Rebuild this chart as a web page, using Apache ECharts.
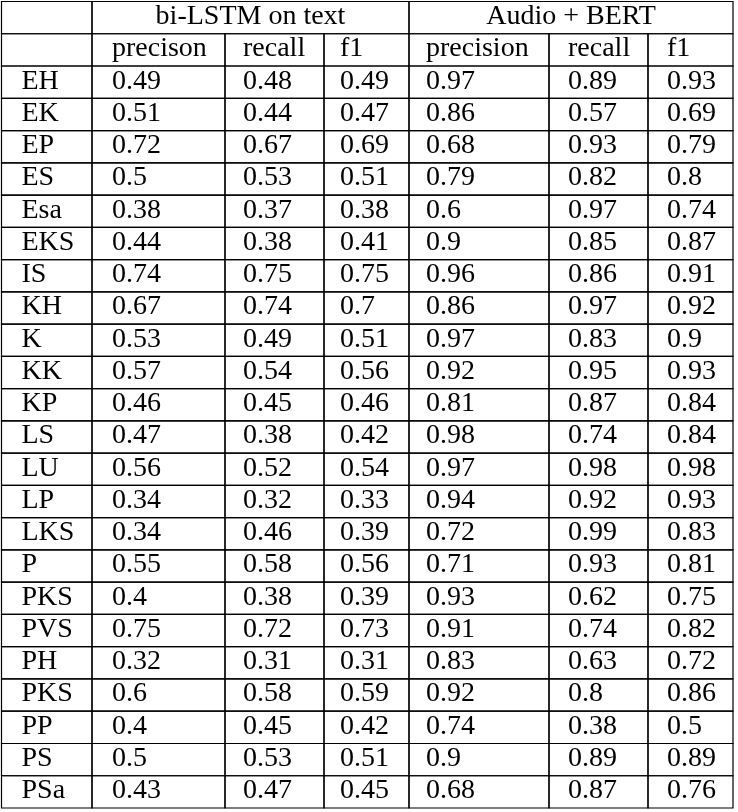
<!DOCTYPE html>
<html><head><meta charset="utf-8">
<script src="https://cdn.jsdelivr.net/npm/echarts@6/dist/echarts.min.js"></script>
<style>html,body{margin:0;padding:0;background:#fff}#c{width:738px;height:812px}</style>
</head><body><div id="c"></div>
<script>
// ---- data ----
const rowLabels = ['EH','EK','EP','ES','Esa','EKS','IS','KH','K','KK','KP','LS','LU','LP','LKS','P','PKS','PVS','PH','PKS','PP','PS','PSa'];
const groupTitles = ['bi-LSTM on text','Audio + BERT'];
const lstmMetricLabels = ['precison','recall','f1'];
const audioMetricLabels = ['precision','recall','f1'];
const lstmPrecision = [0.49,0.51,0.72,0.5,0.38,0.44,0.74,0.67,0.53,0.57,0.46,0.47,0.56,0.34,0.34,0.55,0.4,0.75,0.32,0.6,0.4,0.5,0.43];
const lstmRecall    = [0.48,0.44,0.67,0.53,0.37,0.38,0.75,0.74,0.49,0.54,0.45,0.38,0.52,0.32,0.46,0.58,0.38,0.72,0.31,0.58,0.45,0.53,0.47];
const lstmF1        = [0.49,0.47,0.69,0.51,0.38,0.41,0.75,0.7,0.51,0.56,0.46,0.42,0.54,0.33,0.39,0.56,0.39,0.73,0.31,0.59,0.42,0.51,0.45];
const audioPrecision= [0.97,0.86,0.68,0.79,0.6,0.9,0.96,0.86,0.97,0.92,0.81,0.98,0.97,0.94,0.72,0.71,0.93,0.91,0.83,0.92,0.74,0.9,0.68];
const audioRecall   = [0.89,0.57,0.93,0.82,0.97,0.85,0.86,0.97,0.83,0.95,0.87,0.74,0.98,0.92,0.99,0.93,0.62,0.74,0.63,0.8,0.38,0.89,0.87];
const audioF1       = [0.93,0.69,0.79,0.8,0.74,0.87,0.91,0.92,0.9,0.93,0.84,0.84,0.98,0.93,0.83,0.81,0.75,0.82,0.72,0.86,0.5,0.89,0.76];

// ---- layout (not data) ----
const colWidths = [90.5,133,99,85,140,99,85];
const colPad = [20,20,18,16,17,19,19];
const colEdges = [0];
colWidths.forEach(w => colEdges.push(colEdges[colEdges.length-1] + w));
const headerRows = 2;
const totalRows = headerRows + rowLabels.length;

const cells = [];
function addCell(c0, c1, row, text, align) {
  cells.push({ value: [colEdges[c0], colEdges[c1], row], text: text, align: align, c0: c0 });
}
addCell(0,1,0,'','left');
addCell(1,4,0,groupTitles[0],'center');
addCell(4,7,0,groupTitles[1],'center');
addCell(0,1,1,'','left');
lstmMetricLabels.forEach((t,i) => addCell(1+i,2+i,1,t,'left'));
audioMetricLabels.forEach((t,i) => addCell(4+i,5+i,1,t,'left'));
const cols = [lstmPrecision,lstmRecall,lstmF1,audioPrecision,audioRecall,audioF1];
rowLabels.forEach((lab, r) => {
  const row = headerRows + r;
  addCell(0,1,row,lab,'left');
  cols.forEach((arr,i) => addCell(1+i,2+i,row,String(arr[r]),'left'));
});

const chart = echarts.init(document.getElementById('c'), null, {renderer:'canvas'});
chart.setOption({
  animation: false,
  backgroundColor: '#fff',
  grid: { left: 1.5, right: 5, top: 1.5, bottom: 4, containLabel: false },
  xAxis: { type: 'value', min: 0, max: colEdges[colEdges.length-1], show: false },
  yAxis: { type: 'value', min: 0, max: totalRows, inverse: true, show: false },
  series: [{
    type: 'custom',
    silent: true,
    clip: false,
    encode: { x: [0,1], y: 2 },
    data: cells.map(c => c.value),
    renderItem: function (params, api) {
      const cell = cells[params.dataIndex];
      const p0 = api.coord([api.value(0), api.value(2)]);
      const p1 = api.coord([api.value(1), api.value(2) + 1]);
      const h = p1[1] - p0[1];
      const children = [{
        type: 'rect',
        shape: { x: p0[0], y: p0[1], width: p1[0] - p0[0], height: h },
        style: { fill: null, stroke: '#000', lineWidth: 1.2 }
      }];
      if (cell.text) {
        children.push({
          type: 'text',
          style: {
            text: cell.text,
            x: cell.align === 'center' ? (p0[0] + p1[0]) / 2 : p0[0] + colPad[cell.c0],
            y: p0[1] + h * 0.47,
            align: cell.align,
            verticalAlign: 'middle',
            fontFamily: '"Liberation Serif", "Times New Roman", serif',
            fontSize: 28,
            fill: '#000'
          }
        });
      }
      return { type: 'group', children: children };
    }
  }]
});
</script>
</body></html>
